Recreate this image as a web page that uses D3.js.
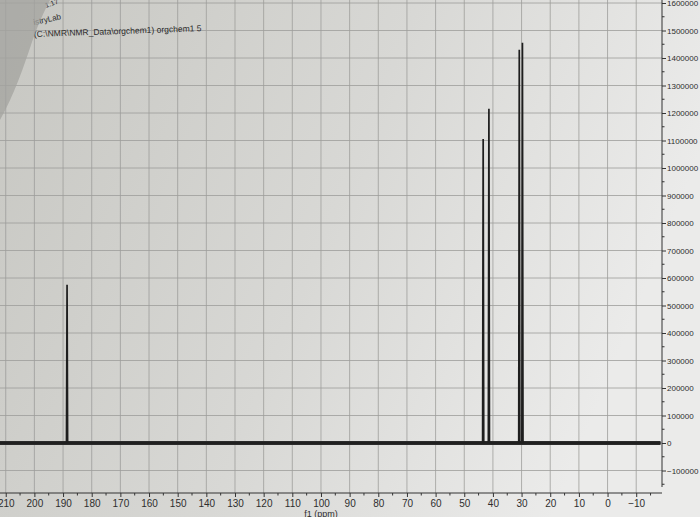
<!DOCTYPE html>
<html>
<head>
<meta charset="utf-8">
<script src="https://cdn.jsdelivr.net/npm/d3@7"></script>
<style>
  html, body { margin: 0; padding: 0; overflow: hidden; }
  body { width: 700px; height: 517px; }
</style>
</head>
<body>
<div id="chart"></div>
<script>
// Peak list (ppm, intensity)
const peakPpm = [188.6, 43.4, 41.4, 30.8, 29.7];
const peakHeight = [575000, 1105000, 1215000, 1430000, 1455000];

// Axis ticks
const xTicks = [210, 200, 190, 180, 170, 160, 150, 140, 130, 120, 110, 100, 90, 80, 70, 60, 50, 40, 30, 20, 10, 0, -10];
const yTicks = [1600000, 1500000, 1400000, 1300000, 1200000, 1100000, 1000000, 900000, 800000,
    700000, 600000, 500000, 400000, 300000, 200000, 100000, 0, -100000];

// Header lines printed on the page
const headerLines = ['1.17', 'istryLab', '(C:\\NMR\\NMR_Data\\orgchem1) orgchem1 5'];

const width = 700;
const height = 517;
const plotRight = 662;
const plotBottom = 493;

const svg = d3.select('#chart')
    .append('svg')
    .attr('width', width)
    .attr('height', height);

// Paper background, darker on the left like the photo
const defs = svg.append('defs');
const grad = defs.append('linearGradient')
    .attr('id', 'paper')
    .attr('x1', 0).attr('y1', 0).attr('x2', 1).attr('y2', 0.3);
grad.append('stop').attr('offset', '0%').attr('stop-color', '#c7c7c2');
grad.append('stop').attr('offset', '55%').attr('stop-color', '#d8d8d5');
grad.append('stop').attr('offset', '100%').attr('stop-color', '#ebebea');

svg.append('rect')
    .attr('width', width)
    .attr('height', height)
    .attr('fill', 'url(#paper)');

defs.append('clipPath').attr('id', 'plot-clip')
    .append('rect')
    .attr('x', 0).attr('y', 0)
    .attr('width', plotRight).attr('height', plotBottom);

// Scales
const x = d3.scaleLinear().domain([212, -19]).range([0, plotRight]);
const y = d3.scaleLinear().domain([0, 1600000]).range([443, 3]);

// Grid
const grid = svg.append('g').attr('clip-path', 'url(#plot-clip)');
grid.selectAll('line.v')
    .data(xTicks)
    .enter().append('line')
    .attr('class', 'v')
    .attr('x1', d => x(d)).attr('x2', d => x(d))
    .attr('y1', 0).attr('y2', plotBottom)
    .attr('stroke', '#9d9d9b')
    .attr('stroke-width', 0.8);
grid.selectAll('line.h')
    .data(yTicks)
    .enter().append('line')
    .attr('class', 'h')
    .attr('x1', 0).attr('x2', plotRight)
    .attr('y1', d => y(d)).attr('y2', d => y(d))
    .attr('stroke', '#9d9d9b')
    .attr('stroke-width', 0.8);

// Spectrum
const spec = svg.append('g').attr('clip-path', 'url(#plot-clip)');

// baseline band (noise is drawn as a thick trace)
spec.append('line')
    .attr('x1', x(212)).attr('x2', x(-18.5))
    .attr('y1', y(0)).attr('y2', y(0))
    .attr('stroke', '#2b2b2b')
    .attr('stroke-width', 4);

const pts = [];
peakPpm.forEach((p, i) => {
    pts.push([p + 0.2, 0], [p, peakHeight[i]], [p - 0.2, 0]);
});
pts.sort((a, b) => b[0] - a[0]);

const line = d3.line().x(d => x(d[0])).y(d => y(d[1]));
spec.append('path')
    .datum([[212, 0], ...pts, [-18.5, 0]])
    .attr('d', line)
    .attr('fill', 'none')
    .attr('stroke', '#1e1e1e')
    .attr('stroke-width', 1.7)
    .attr('stroke-linejoin', 'miter');

// X axis (bottom)
const xAxis = svg.append('g')
    .attr('transform', `translate(0,${plotBottom})`)
    .call(d3.axisBottom(x).tickValues(xTicks).tickSize(4).tickPadding(3).tickFormat(d3.format('d')));
xAxis.select('.domain').attr('stroke', '#333').attr('d', `M0,0H${plotRight}`);
xAxis.selectAll('.tick line').attr('stroke', '#333');
xAxis.selectAll('text')
    .attr('fill', '#2e2e2e')
    .style('font-family', 'Liberation Sans, Arial, sans-serif')
    .style('font-size', '10px');

svg.append('g')
    .selectAll('line')
    .data(d3.range(-15, 212, 5).filter(d => d % 10 !== 0))
    .enter().append('line')
    .attr('x1', d => x(d)).attr('x2', d => x(d))
    .attr('y1', plotBottom).attr('y2', plotBottom + 2.5)
    .attr('stroke', '#333');

svg.append('text')
    .attr('x', x(100))
    .attr('y', 517)
    .attr('text-anchor', 'middle')
    .attr('fill', '#2e2e2e')
    .style('font-family', 'Liberation Sans, Arial, sans-serif')
    .style('font-size', '9px')
    .text('f1 (ppm)');

// Y axis (right)
const yAxis = svg.append('g')
    .attr('transform', `translate(${plotRight},0)`)
    .call(d3.axisRight(y).tickValues(yTicks).tickSize(4).tickPadding(1).tickFormat(d3.format('d')));
yAxis.select('.domain').attr('stroke', '#333').attr('d', `M0,0V${plotBottom - 6}`);
yAxis.selectAll('.tick line').attr('stroke', '#333');
yAxis.selectAll('text')
    .attr('fill', '#2e2e2e')
    .style('font-family', 'Liberation Sans, Arial, sans-serif')
    .style('font-size', '8px');

svg.append('g')
    .selectAll('line')
    .data(d3.range(-150000, 1600000, 50000).filter(d => d % 100000 !== 0))
    .enter().append('line')
    .attr('x1', plotRight).attr('x2', plotRight + 2.5)
    .attr('y1', d => y(d)).attr('y2', d => y(d))
    .attr('stroke', '#333');

// Header text
const header = svg.append('g')
    .style('font-family', 'Liberation Sans, Arial, sans-serif')
    .attr('fill', '#2a2a2a');
header.append('text')
    .attr('transform', 'translate(46,8) rotate(-20)')
    .style('font-size', '7px')
    .text(headerLines[0]);
header.append('text')
    .attr('transform', 'translate(34,25) rotate(-12)')
    .style('font-size', '8px')
    .text(headerLines[1]);
header.append('text')
    .attr('transform', 'translate(34,37) rotate(-2)')
    .style('font-size', '8.5px')
    .text(headerLines[2]);

// curled paper corner shadow
svg.append('path')
    .attr('d', 'M0,0 L50,0 C44,12 38,24 32,42 C24,66 14,95 0,120 Z')
    .attr('fill', '#a3a39f')
    .attr('opacity', 0.75);
</script>
</body>
</html>
